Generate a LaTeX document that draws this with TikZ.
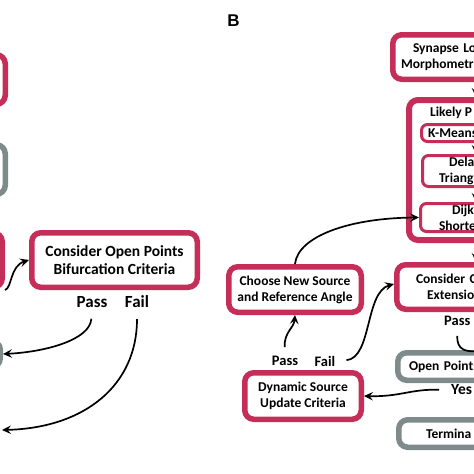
\documentclass[tikz,border=0pt]{standalone}
\usepackage{fontspec}
\setmainfont{Carlito}
\newfontfamily\panelfont{Liberation Sans}
\usetikzlibrary{arrows.meta}
\definecolor{crimson}{RGB}{196,46,88}
\definecolor{slate}{RGB}{126,139,138}

\begin{document}
\begin{tikzpicture}[x=1pt, y=-1pt,
    box/.style={draw, line width=5.5pt, rounded corners=9pt, fill=white, align=center, inner sep=0pt,
      font=\bfseries\fontsize{13.5}{16}\selectfont},
    redbox/.style={box, draw=crimson},
    greybox/.style={box, draw=slate},
    subbox/.style={redbox, line width=3pt, rounded corners=6pt},
    cutbox/.style={anchor=west, align=left, text width=150pt},
    tag/.style={inner sep=1pt, font=\bfseries\fontsize{14.5}{14.5}\selectfont},
    arr/.style={-{Stealth[length=9pt, width=8.5pt, inset=3.5pt]}, line width=1.7pt}]
  \useasboundingbox (0,0) rectangle (474,474);
  \clip (0,0) rectangle (474,474);

  % panel A (cut at the left edge)
  \node[redbox, minimum width=114.5, minimum height=49.5] (prevA) at (-52,79.5) {};
  \node[greybox, minimum width=114.5, minimum height=49.5] (prevB) at (-52,169.5) {};
  \node[redbox, minimum width=114.5, minimum height=54.5] (prevC) at (-55,260) {};
  \node[greybox, minimum width=114.5, minimum height=26.5] (prevD) at (-57,354) {};
  \node[redbox, minimum width=165.5, minimum height=54.5, font=\bfseries\fontsize{15.5}{18}\selectfont] (bif) at (114.5,260)
    {Consider Open Points\\Bifurcation Criteria};
  \node[tag, font=\bfseries\fontsize{17}{17}\selectfont] (passL) at (92,302) {Pass};
  \node[tag, font=\bfseries\fontsize{17}{17}\selectfont] (failL) at (137,302) {Fail};
  \coordinate (exitL) at (2,430);
  \draw[arr] (prevC.south east) .. controls (12,288) and (10,266) .. (bif.west);
  \draw[arr, shorten <=10pt] (passL.south) .. controls (90,340) and (45,352) .. (prevD.east);
  \draw[arr, shorten <=10pt] (failL.south) .. controls (137,385) and (85,428) .. (exitL);

  % panel B (cut at the right edge)
  \node[inner sep=0pt, font=\panelfont\bfseries\fontsize{17}{17}\selectfont] (panelB) at (233.5,21) {B};
  \coordinate (col) at (476,0);
  \node[redbox, cutbox, inner xsep=8.25pt, minimum height=44.5] (syn) at (390,57) {\hspace*{12pt}Synapse Lo\\Morphometr};
  \node[redbox, cutbox, line width=6pt, minimum height=140] (paths) at (406,170) {};
  \node[anchor=west, inner sep=0pt, font=\bfseries\fontsize{13.5}{16}\selectfont] (pathsTitle) at (430,113) {Likely P};
  \node[subbox, cutbox, inner xsep=6.5pt, minimum height=17] (kmeans) at (420,133) {K-Means};
  \node[subbox, cutbox, inner xsep=16.5pt, minimum height=31] (delaunay) at (421,171) {\hspace*{10pt}Dela\\Triang};
  \node[subbox, cutbox, inner xsep=18.5pt, minimum height=28] (dijkstra) at (419,217.5) {\hspace*{13pt}Dijk\\Shorte};
  \node[redbox, minimum width=132.5, minimum height=45.5] (choose) at (295,289.5) {Choose New Source\\and Reference Angle};
  \node[tag] (passR) at (285,361) {Pass};
  \node[tag] (failR) at (325,361) {Fail};
  \node[redbox, cutbox, inner xsep=19.25pt, minimum height=44.5] (cons) at (394,287) {Consider C\\\hspace*{11pt}Extensio};
  \node[tag, anchor=west, inner sep=0pt] (passC) at (444,321) {Pass};
  \node[greybox, cutbox, inner xsep=11.25pt, minimum height=27.5] (open) at (395,366.5) {Open Points};
  \node[tag, anchor=west, inner sep=0pt, font=\bfseries\fontsize{15.5}{15.5}\selectfont] (yes) at (451,390) {Yes};
  \node[redbox, minimum width=116.5, minimum height=46.5] (dyn) at (303,396) {Dynamic Source\\Update Criteria};
  \node[greybox, cutbox, inner xsep=27.25pt, minimum height=27.5] (term) at (396,433.5) {Termina};

  \draw[arr] (syn.south -| col) -- (paths.north -| col);
  \draw[arr] (kmeans.south -| col) -- (delaunay.north -| col);
  \draw[arr] (delaunay.south -| col) -- (dijkstra.north -| col);
  \draw[arr] (paths.south -| col) -- (cons.north -| col);
  \draw[arr] (choose.north) .. controls (298,236) and (350,218) .. (dijkstra.west);
  \draw[arr, shorten <=8pt] (passR.north) .. controls (284,332) and (294,328) .. (choose.south);
  \draw[arr, shorten <=10pt] (failR.east) .. controls (372,358) and (365,292) .. ([yshift=3pt]cons.west);
  \draw[arr, shorten <=10pt] (passC.south) .. controls (457,350) and (465,353) .. ([xshift=93pt]open.north west);
  \draw[arr, shorten <=12pt] (yes.west) .. controls (410,389) and (400,397) .. (dyn.east);
\end{tikzpicture}
\end{document}
